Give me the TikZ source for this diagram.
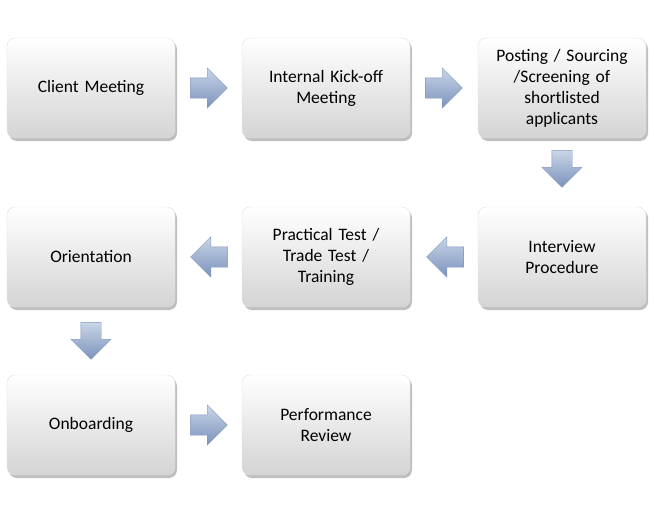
\documentclass[tikz,border=0pt]{standalone}
\usepackage{fontspec}
\usepackage{xcolor}
\setmainfont{Carlito}[WordSpace=0.6]
\usetikzlibrary{shapes.arrows,shadows,calc}

\definecolor{arrowtop}{HTML}{C9D5E8}
\definecolor{arrowbot}{HTML}{7A92BB}
\definecolor{arrowedge}{HTML}{8196BA}

\begin{document}
\begin{tikzpicture}[x=1pt,y=-1pt,
        stage/.style={rectangle,rounded corners=8pt,draw=black!12,top color=white,bottom color=black!17,
            minimum width=168pt,minimum height=100pt,text width=150pt,align=center,
            font=\fontsize{17.5}{21}\selectfont,
            drop shadow={shadow xshift=2pt,shadow yshift=-3pt,fill=black!50}},
        flow/.style={single arrow,single arrow head extend=10pt,minimum width=40pt,minimum height=37pt,
            anchor=tail,draw=arrowedge,top color=arrowtop,bottom color=arrowbot},
        across/.style={flow,inner xsep=0pt,inner ysep=10pt},
        downward/.style={flow,shape border rotate=270,inner xsep=10pt,inner ysep=0pt}]
        \useasboundingbox (0,0) rectangle (654,514);

        \node[stage] (A) at (91,88)  {Client Meeting};
        \node[stage] (B) at (326,88) {Internal Kick-off\\Meeting};
        \node[stage] (C) at (562,88) {Posting / Sourcing\\/Screening of\\shortlisted\\applicants};
        \node[stage] (D) at (562,257) {Interview\\Procedure};
        \node[stage] (E) at (326,257) {Practical Test /\\Trade Test /\\Training};
        \node[stage] (F) at (91,257)  {Orientation};
        \node[stage] (G) at (91,425)  {Onboarding};
        \node[stage] (H) at (326,425) {Performance\\Review};

        % block arrows between the stages
        \node[across]                       (AB) at ($(A.east)+(15,0)$) {};
        \node[across]                       (BC) at ($(B.east)+(15,0)$) {};
        \node[downward]                     (CD) at ($(C.south)+(0,12)$) {};
        \node[across,shape border rotate=180] (DE) at ($(D.west)+(-14,0)$) {};
        \node[across,shape border rotate=180] (EF) at ($(E.west)+(-14,0)$) {};
        \node[downward]                     (FG) at ($(F.south)+(0,15)$) {};
        \node[across]                       (GH) at ($(G.east)+(15,0)$) {};
    \end{tikzpicture}
\end{document}
